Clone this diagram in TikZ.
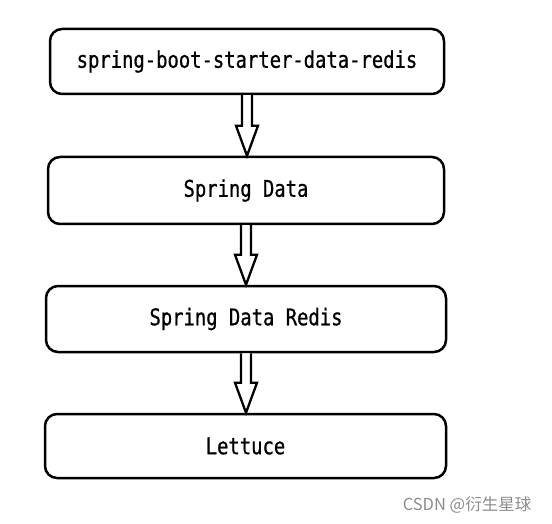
\documentclass[tikz,border=0pt]{standalone}
\usepackage{fontspec}
\setmonofont{DejaVu Sans Mono}[FakeStretch=0.82,FakeBold=0.8]
\newfontfamily\cjk{Noto Sans CJK SC}
\usetikzlibrary{calc}
\newcommand\hollowarrow[2]{\draw[line width=2.3pt, fill=white] let \p1=(#1.south), \p2=(#2.north) in (\x1-5pt,\y1) -- (\x1-5pt,\y2+30pt) -- (\x1-11pt,\y2+30pt) -- (\x1,\y2) -- (\x1+11pt,\y2+30pt) -- (\x1+5pt,\y2+30pt) -- (\x1+5pt,\y1);}

\begin{document}
\begin{tikzpicture}[x=1pt,y=-1pt,every node/.style={draw, line width=2.5pt, rounded corners=12pt, inner sep=0pt, font=\ttfamily\fontsize{23}{23}\selectfont}]
\useasboundingbox (0,0) rectangle (552,524);
\node[minimum width=394pt, minimum height=65pt] (starter) at (247,61.5) {spring-boot-starter-data-redis};
\node[minimum width=396pt, minimum height=67pt] (data) at (246,190.5) {Spring Data};
\node[minimum width=400pt, minimum height=66pt] (redis) at (246,319) {Spring Data Redis};
\node[minimum width=401pt, minimum height=64pt] (lettuce) at (245.5,446) {Lettuce};
\hollowarrow{starter}{data}
\hollowarrow{data}{redis}
\hollowarrow{redis}{lettuce}
\node[draw=none, rounded corners=0pt, text=black!45, font=\cjk\fontsize{16.5}{16.5}\selectfont] (mark) at (467,505) {CSDN @衍生星球};
\end{tikzpicture}
\end{document}
